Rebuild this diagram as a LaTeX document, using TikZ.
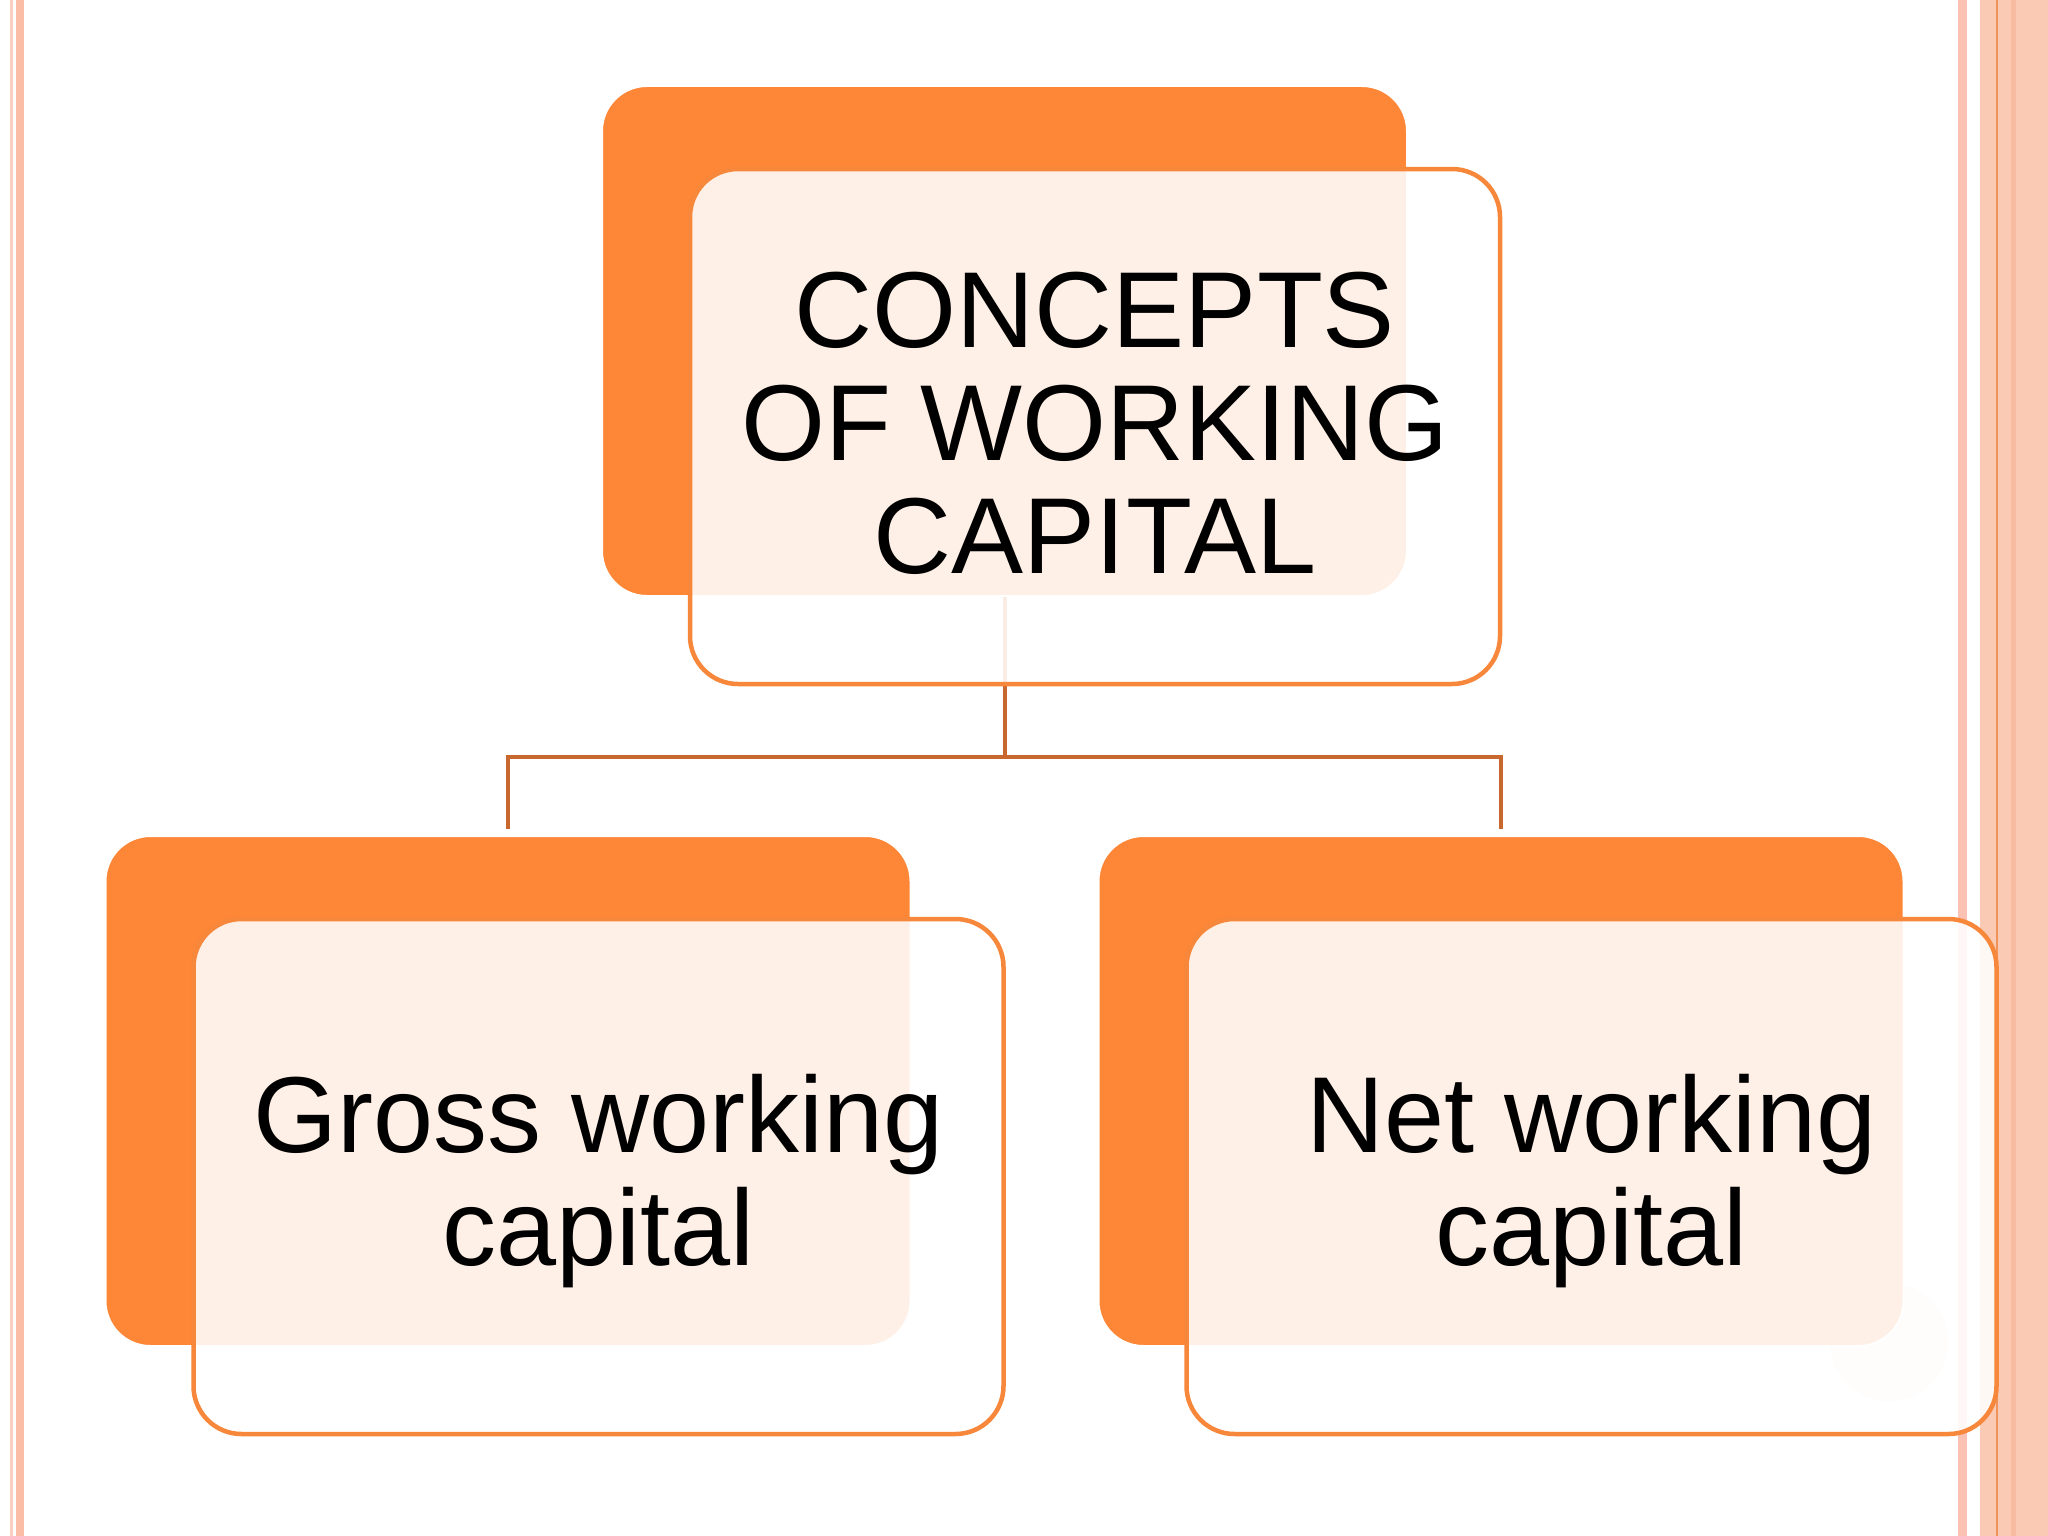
\documentclass[tikz,border=0pt]{standalone}
\usepackage{fontspec}
\setmainfont{Liberation Sans}
\definecolor{boxorange}{HTML}{FE8637}
\definecolor{outl}{HTML}{F7873A}
\definecolor{connc}{HTML}{C8682F}
\definecolor{stripeA}{HTML}{F9CFC0}
\definecolor{stripeB}{HTML}{FBBDA5}
\definecolor{stripeC}{HTML}{FBC2B4}
\definecolor{stripeD}{HTML}{FACAB4}
\definecolor{stripeE}{HTML}{F0935A}
\definecolor{stripeF}{HTML}{F6BBA0}
\definecolor{faintc}{HTML}{FDF0EA}
\tikzset{
  backbox/.style={draw=white, line width=2pt, fill=boxorange, rounded corners=45pt,
    minimum width=805pt, minimum height=510pt, inner sep=0pt},
  frontcard/.style={draw=outl, line width=4.5pt, fill=white, fill opacity=0.88,
    rounded corners=48pt, minimum width=810pt, minimum height=515pt, inner sep=0pt},
  cardtext/.style={inner sep=0pt, align=center, text=black,
    font=\fontsize{108}{113}\selectfont},
  conn/.style={draw=connc, line width=4pt}
}
\begin{document}
\begin{tikzpicture}[x=1pt,y=-1pt]
\useasboundingbox (0,0) rectangle (2048,1536);
\fill[white] (0,0) rectangle (2048,1536);
% template stripes
\fill[stripeA] (10,0) rectangle (13,1536);
\fill[stripeB] (16,0) rectangle (24,1536);
\fill[stripeC] (1958,0) rectangle (1967,1536);
\fill[stripeD] (1980,0) rectangle (2048,1536);
\fill[stripeF] (2011,0) rectangle (2016,1536);
\fill[stripeE] (1995.5,0) rectangle (1998,1536);
\fill[faintc] (1889,1342) circle (59);
% back boxes
\node[backbox] (tb) at (1004.5,341) {};
\node[backbox] (lb) at (508,1091) {};
\node[backbox] (rb) at (1501,1091) {};
% connectors
\coordinate (j) at (1004.5,757);
\draw[conn] (tb.south) -- (j);
\draw[conn] ([yshift=6pt]lb.north) |- (j) -| ([yshift=6pt]rb.north);
% front cards
\node[frontcard] (tf) at (1095,426.5) {};
\node[frontcard] (lf) at (598.5,1176.5) {};
\node[frontcard] (rf) at (1591.5,1176.5) {};
% texts
\node[cardtext] (tt) at ([yshift=3pt]tf.center) {CONCEPTS\\OF WORKING\\CAPITAL};
\node[cardtext] (lt) at ([yshift=-5pt]lf.center) {Gross working\\capital};
\node[cardtext] (rt) at ([yshift=-5pt]rf.center) {Net working\\capital};
\end{tikzpicture}
\end{document}
